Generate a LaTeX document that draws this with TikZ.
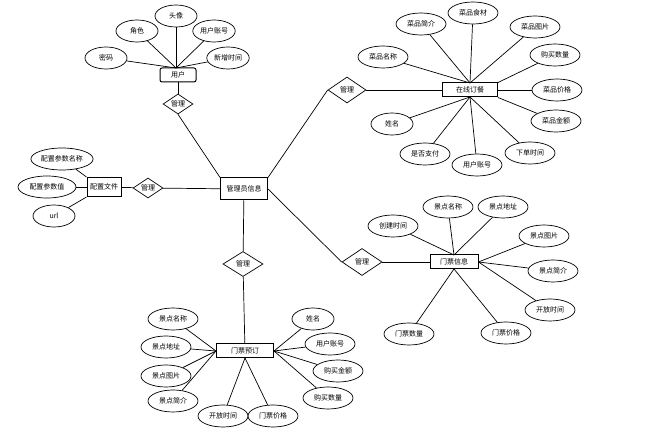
\documentclass[tikz,border=0pt]{standalone}
\usepackage{fontspec}
\setmainfont{Noto Sans CJK SC}[BoldFont={Noto Sans CJK SC Bold}]
\usetikzlibrary{shapes.geometric}
\begin{document}
\begin{tikzpicture}[x=1pt,y=-1pt,
  every node/.style={font=\fontsize{7}{8}\selectfont, inner sep=1pt},
  attr/.style={draw, ellipse, line width=0.7pt, minimum width=50pt, minimum height=22pt},
  sattr/.style={attr, minimum width=42pt},
  ent/.style={draw, rectangle, line width=1pt, minimum height=14pt, inner sep=2pt},
  rel/.style={draw, diamond, aspect=1.5, line width=0.7pt, inner sep=0.5pt, minimum width=30pt, minimum height=20pt},
  conn/.style={line width=0.7pt}]
\useasboundingbox (0,0) rectangle (662,446);
% entities
\node[ent, minimum width=47pt, minimum height=22pt] (admin) at (244,189) {管理员信息};
\node[ent, rounded corners=2pt, minimum width=36pt, minimum height=14pt] (user) at (178,75) {用户};
\node[ent, minimum width=34pt, minimum height=19pt] (cfg) at (104,187) {配置文件};
\node[ent, minimum width=55pt] (order) at (470,90) {在线订餐};
\node[ent, minimum width=48pt] (tinfo) at (454,262) {门票信息};
\node[ent, minimum width=57pt] (tbook) at (245,351) {门票预订};
% relations
\node[rel] (r1) at (178,104) {管理};
\node[rel] (r2) at (148,188) {管理};
\node[rel, minimum width=38pt, minimum height=26pt] (r3) at (347,90) {管理};
\node[rel, minimum width=40pt, minimum height=27pt] (r4) at (362,262) {管理};
\node[rel, minimum width=40pt, minimum height=25pt] (r5) at (243,264) {管理};
% relation connectors
\draw[conn] (user) -- (r1);
\draw[conn] (r1.south) -- (admin.north west);
\draw[conn] (admin.north east) -- (r3.west);
\draw[conn] (r3) -- (order);
\draw[conn] (admin.east) -- (r4.west);
\draw[conn] (r4) -- (tinfo);
\draw[conn] (admin) -- (r5);
\draw[conn] (r5) -- (tbook);
\draw[conn] (admin) -- (r2);
\draw[conn] (r2) -- (cfg);
% user attributes
\coordinate (ut) at (176,68);
\node[sattr] (u1) at (106,58) {密码};
\node[sattr] (u2) at (137,31) {角色};
\node[sattr] (u3) at (176,16) {头像};
\node[sattr] (u4) at (214,31) {用户账号};
\node[sattr] (u5) at (228,58) {新增时间};
\foreach \a in {u1,u2,u3,u4,u5} \draw[conn] (\a) -- (ut);
% config attributes
\node[attr, minimum width=62pt] (c1) at (62,159) {配置参数名称};
\node[attr, minimum width=58pt] (c2) at (47,187) {配置参数值};
\node[sattr] (c3) at (54,216) {url};
\draw[conn] (c1) -- (cfg.north west);
\draw[conn] (c2) -- (cfg.west);
\draw[conn] (c3) -- (cfg.south west);
% order attributes
\node[attr] (o1) at (421,24) {菜品简介};
\node[attr] (o2) at (473,13) {菜品食材};
\node[attr] (o3) at (535,27) {菜品图片};
\node[attr] (o4) at (383,57) {菜品名称};
\node[attr] (o5) at (555,55) {购买数量};
\node[attr] (o6) at (557,90) {菜品价格};
\node[attr] (o7) at (556,121) {菜品金额};
\node[sattr] (o8) at (392,124) {姓名};
\node[attr] (o9) at (425,154) {是否支付};
\node[attr] (o10) at (477,165) {用户账号};
\node[attr] (o11) at (530,153) {下单时间};
\coordinate (ot) at (470,83);
\coordinate (ob) at (470,97);
\foreach \a in {o1,o2,o3,o4} \draw[conn] (\a) -- (ot);
\draw[conn] (o5) -- (order.north east);
\draw[conn] (o6) -- (order.east);
\draw[conn] (o7) -- (order.south east);
\foreach \a in {o8,o9,o10,o11} \draw[conn] (\a) -- (ob);
% ticket info attributes
\node[attr] (t1) at (393,226) {创建时间};
\node[attr] (t2) at (448,207) {景点名称};
\node[attr] (t3) at (503,207) {景点地址};
\node[attr] (t4) at (544,236) {景点图片};
\node[attr] (t5) at (553,271) {景点简介};
\node[attr] (t6) at (550,310) {开放时间};
\node[attr] (t7) at (506,333) {门票价格};
\node[attr] (t8) at (409,334) {门票数量};
\coordinate (tt) at (454,255);
\coordinate (tb) at (454,269);
\foreach \a in {t1,t2,t3} \draw[conn] (\a) -- (tt);
\draw[conn] (t4) -- (tinfo.east);
\draw[conn] (t5) -- (tinfo.east);
\draw[conn] (t6) -- (tinfo.east);
\foreach \a in {t7,t8} \draw[conn] (\a) -- (tb);
% ticket booking attributes
\node[attr] (b1) at (173,319) {景点名称};
\node[attr] (b2) at (166,347) {景点地址};
\node[attr] (b3) at (166,376) {景点图片};
\node[attr] (b4) at (173,401) {景点简介};
\node[attr] (b5) at (223,416) {开放时间};
\node[attr] (b6) at (273,416) {门票价格};
\node[sattr] (b7) at (313,319) {姓名};
\node[attr] (b8) at (330,344) {用户账号};
\node[attr] (b9) at (338,371) {购买金额};
\node[attr] (b10) at (328,398) {购买数量};
\foreach \a in {b1,b2,b3,b4} \draw[conn] (\a) -- (tbook.west);
\coordinate (bb) at (245,358);
\foreach \a in {b5,b6} \draw[conn] (\a) -- (bb);
\foreach \a in {b7,b8,b9,b10} \draw[conn] (\a) -- (tbook.east);
\end{tikzpicture}
\end{document}
